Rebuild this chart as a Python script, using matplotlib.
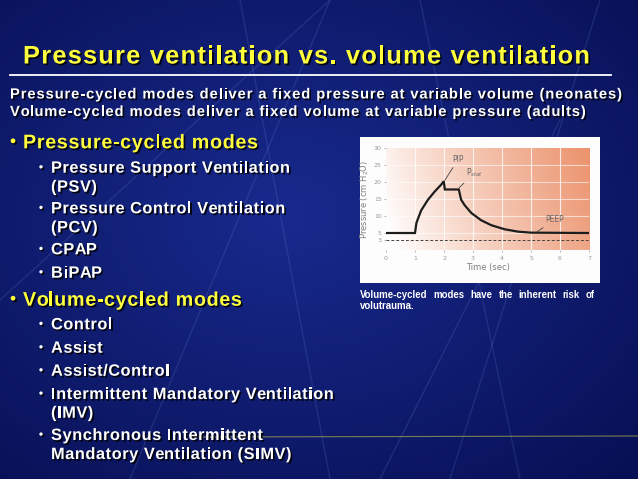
import numpy as np
import matplotlib
matplotlib.use("Agg")
import matplotlib.pyplot as plt
import matplotlib.patheffects as pe
from matplotlib.patches import Rectangle
from matplotlib.font_manager import FontProperties

# ---------------- data ----------------
title = "Pressure ventilation vs. volume ventilation"
subtitle_lines = [
    "Pressure-cycled modes deliver a fixed pressure at variable volume (neonates)",
    "Volume-cycled modes deliver a fixed volume at variable pressure (adults)",
]
section_titles = ["Pressure-cycled modes", "Volume-cycled modes"]
pressure_modes = ["Pressure Support Ventilation\n(PSV)", "Pressure Control Ventilation\n(PCV)", "CPAP", "BiPAP"]
volume_modes = ["Control", "Assist", "Assist/Control",
                "Intermittent Mandatory Ventilation\n(IMV)",
                "Synchronous Intermittent\nMandatory Ventilation (SIMV)"]
caption = "Volume-cycled modes have the inherent risk of volutrauma."

time_sec = [0, 1.0, 1.05, 1.21, 1.44, 1.67, 1.90, 1.99, 2.03, 2.51, 2.59, 2.71, 2.94,
            3.28, 3.63, 4.09, 4.55, 5.0, 7.0]
pressure_cmh2o = [5, 5, 8.0, 11.6, 14.7, 17.1, 19.2, 20.2, 17.8, 17.8, 14.8, 13.2, 10.9,
                  8.75, 7.3, 6.1, 5.4, 5.1, 5.0]
y_ticks = [3, 5, 10, 15, 20, 25, 30]
x_ticks = [0, 1, 2, 3, 4, 5, 6, 7]
dashed_level = 3

W, H = 638, 479
fig = plt.figure(figsize=(W / 100, H / 100), dpi=100)
renderer = fig.canvas.get_renderer()

# ---------------- slide background ----------------
bg = fig.add_axes([0, 0, 1, 1])
bg.set_xlim(0, W)
bg.set_ylim(H, 0)
bg.axis("off")
yy, xx = np.mgrid[0:1:240j, 0:1:320j]
r = np.sqrt((xx - 0.45) ** 2 + (yy - 0.45) ** 2)
c_in = np.array([0x18, 0x2a, 0x8e]) / 255
c_out = np.array([0x08, 0x10, 0x55]) / 255
t = np.clip(r / 0.75, 0, 1)[..., None]
img = c_in * (1 - t) + c_out * t
bg.imshow(img, extent=(0, W, H, 0), aspect="auto", zorder=0)

for (x0, y0, x1, y1) in [(330, 0, 130, 479), (420, 0, 520, 479), (0, 300, 330, 0),
                         (560, 120, 380, 479), (240, 0, 330, 479), (600, 0, 450, 479)]:
    bg.plot([x0, x1], [y0, y1], color="#6f8fdc", lw=1.0, alpha=0.18, zorder=1)
bg.plot([190, 638], [437, 436], color="#a8a84a", lw=0.8, alpha=0.7, zorder=1)

shadow = [pe.SimplePatchShadow(offset=(1.2, -1.2), shadow_rgbFace="black", alpha=0.85), pe.Normal()]
YEL = "#ffff3c"
FONT = "Liberation Sans"

_cache = {}


def str_width(s, size):
    key = (s, size)
    if key not in _cache:
        prop = FontProperties(family=FONT, weight="bold", size=size)
        w2 = renderer.get_text_width_height_descent("||", prop, False)[0]
        w3 = renderer.get_text_width_height_descent("|" + s + "|", prop, False)[0]
        _cache[key] = w3 - w2
    return _cache[key]


def tracking_for(s, size, target):
    return (target - str_width(s, size)) / (len(s) - 1)


def tracked(x, base, s, size, color, track, effects=shadow):
    for i, c in enumerate(s):
        if c != " ":
            pen = x + (str_width(s[:i], size) if i else 0.0) + i * track
            bg.text(pen, base, c, color=color, fontsize=size, fontweight="bold", family=FONT,
                    ha="left", va="baseline", path_effects=effects, zorder=3)


# title
T_SIZE = 18.3
tracked(23, 63.5, title, T_SIZE, YEL, tracking_for(title, T_SIZE, 590 - 23))
bg.plot([10, 611], [75, 75], color="white", lw=1.3, zorder=3)

# subtitle
S_SIZE = 10.6
s_track = tracking_for(subtitle_lines[0], S_SIZE, 622 - 10)
for base, s in zip([98.5, 116], subtitle_lines):
    tracked(10, base, s, S_SIZE, "white", s_track)

# bullets
Y_SIZE = 14.2
y_track = tracking_for(section_titles[0], Y_SIZE, 258 - 23)
B_SIZE = 11.8
b_track = tracking_for("Pressure Support Ventilation", B_SIZE, 290 - 51)


def yellow_bullet(base, s):
    bg.text(13, base - 6.5, "\u2022", color=YEL, fontsize=12, fontweight="bold", family=FONT,
            va="center", ha="center", path_effects=shadow, zorder=3)
    tracked(23, base, s, Y_SIZE, YEL, y_track)


def white_items(bases, items):
    i = 0
    for s in items:
        lines = s.split("\n")
        bg.text(41, bases[i] - 5, "\u2022", color="white", fontsize=8.5, fontweight="bold",
                family=FONT, va="center", ha="center", path_effects=shadow, zorder=3)
        for ln in lines:
            tracked(51, bases[i], ln, B_SIZE, "white", b_track)
            i += 1


yellow_bullet(148.3, section_titles[0])
white_items([172.7, 191.7, 213.3, 232.3, 254.3, 277.7], pressure_modes)
yellow_bullet(305.7, section_titles[1])
white_items([329.3, 352.7, 375.7, 399, 417.7, 440, 459], volume_modes)

# ---------------- inset chart panel ----------------
bg.add_patch(Rectangle((360, 137), 240, 146, facecolor="#fdfdfd", edgecolor="none", zorder=2))

# caption, justified first line
words = caption.split(" ")
line1 = words[:-1]
C_SIZE = 6.9
cap_kw = dict(color="white", fontsize=C_SIZE, fontweight="bold", family=FONT,
              va="baseline", ha="left", zorder=3)
widths = [str_width(w, C_SIZE) for w in line1]
x_left, x_right = 360, 595
gap = (x_right - x_left - sum(widths)) / (len(line1) - 1)
x = x_left
for w, wd in zip(line1, widths):
    bg.text(x, 298, w, **cap_kw)
    x += wd + gap
bg.text(x_left, 309, words[-1], **cap_kw)

# inset axes
ax = fig.add_axes([386 / W, 1 - 250 / H, (589 - 386) / W, (250 - 148) / H])
ax.set_xlim(0, 7)
ax.set_ylim(0, 30)
gy, gx = np.mgrid[0:1:60j, 0:1:200j]
tt_ = np.clip(0.9 * gx ** 0.9 + 0.18 * gy - 0.05, 0, 1)[..., None]
white = np.array([1.0, 1.0, 1.0])
orange = np.array([0xec, 0x95, 0x70]) / 255
grad = white * (1 - tt_) + orange * tt_
ax.imshow(grad, extent=(0, 7, 0, 30), aspect="auto", origin="lower", zorder=0)
for xv in x_ticks[1:-1]:
    ax.axvline(xv, color="white", lw=0.8, alpha=0.8, zorder=1)
for yv in [5, 10, 15, 20, 25]:
    ax.axhline(yv, color="white", lw=0.8, alpha=0.6, zorder=1)
ax.axhline(dashed_level, color="#444444", lw=0.7, ls=(0, (3, 2)), zorder=2)
ax.plot(time_sec, pressure_cmh2o, color="#1c1c1c", lw=1.6, zorder=3, solid_joinstyle="miter")
for s in ax.spines.values():
    s.set_visible(False)
ax.set_xticks(x_ticks)
ax.set_yticks(y_ticks)
ax.tick_params(axis="both", labelsize=4.5, colors="#999999", length=1.5, width=0.5, pad=1.5)
ax.tick_params(axis="x", pad=3)
ax.set_xlabel("Time (sec)", fontsize=6, color="#808080", labelpad=1)
ax.set_ylabel("Pressure (cm H$_2$O)", fontsize=6, color="#808080", labelpad=2)

ann_kw = dict(fontsize=5.5, color="#666666", zorder=4)
ax.annotate("PIP", xy=(2.02, 20.4), xytext=(2.3, 26.0), **ann_kw,
            arrowprops=dict(arrowstyle="-", color="#444444", lw=0.6, shrinkA=1, shrinkB=0))
ax.annotate("P$_{stat}$", xy=(2.52, 18.3), xytext=(2.75, 21.8), **ann_kw,
            arrowprops=dict(arrowstyle="-", color="#444444", lw=0.6, shrinkA=1, shrinkB=0))
ax.annotate("PEEP", xy=(5.2, 5.3), xytext=(5.5, 8.2), **ann_kw,
            arrowprops=dict(arrowstyle="-", color="#444444", lw=0.6, shrinkA=1, shrinkB=0))

fig.savefig("out.png", dpi=100)
